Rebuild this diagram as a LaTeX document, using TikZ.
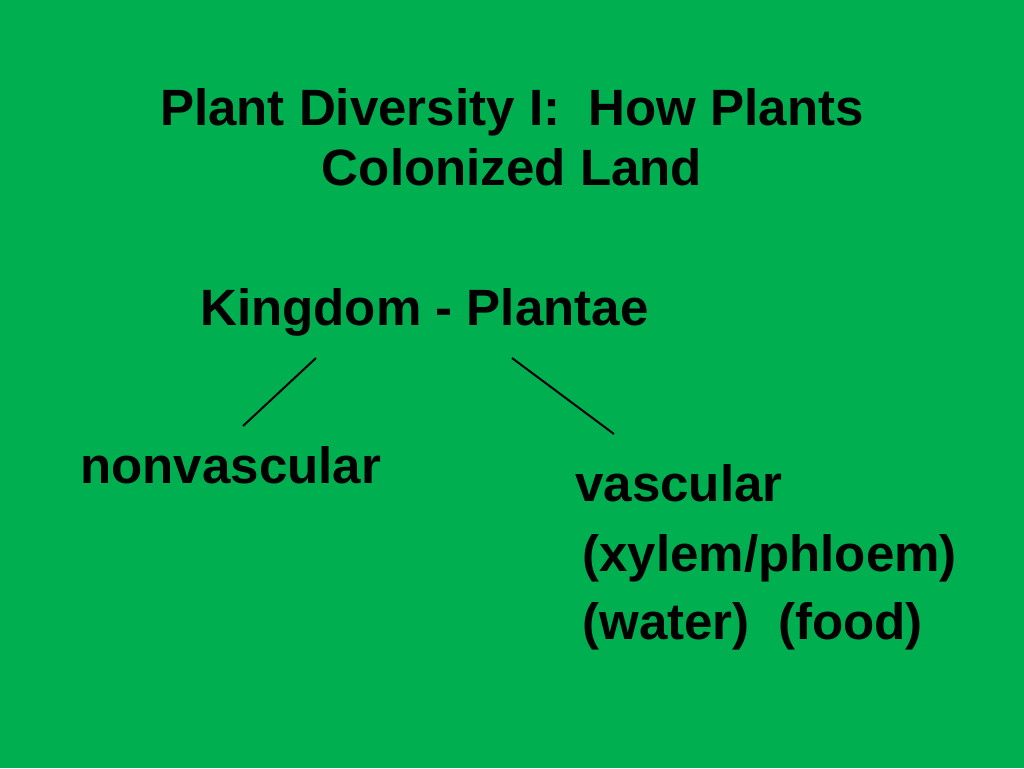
\documentclass[tikz,border=0pt]{standalone}
\usepackage{fontspec}
\setmainfont{Liberation Sans}
\begin{document}
\begin{tikzpicture}[x=0.75pt,y=-0.75pt,
  txt/.style={font=\fontsize{38.3}{45}\selectfont\bfseries,inner sep=0pt},
  ln/.style={line width=1.5pt,black}]
\definecolor{bg}{RGB}{0,176,80}
\fill[bg] (0,0) rectangle (1024,768);
\useasboundingbox (0,0) rectangle (1024,768);
\node[txt,align=center] (title) at (512,137) {Plant Diversity I:\ \ How Plants\\Colonized Land};
\node[txt,anchor=west] (king) at (200,312) {Kingdom - Plantae};
\node[txt,anchor=west] (non) at (80,465) {nonvascular};
\node[txt,anchor=west] (vas) at (575,483) {vascular};
\node[txt,anchor=west] (xp) at (582,558) {(xylem/phloem)};
\node[txt,anchor=west] (wf) at (582,626) {(water)\ \ (food)};
\coordinate (a1) at (316,358); \coordinate (a2) at (243,426);
\coordinate (b1) at (512,358); \coordinate (b2) at (614,434);
\draw[ln] (a1) -- (a2);
\draw[ln] (b1) -- (b2);
\end{tikzpicture}
\end{document}
